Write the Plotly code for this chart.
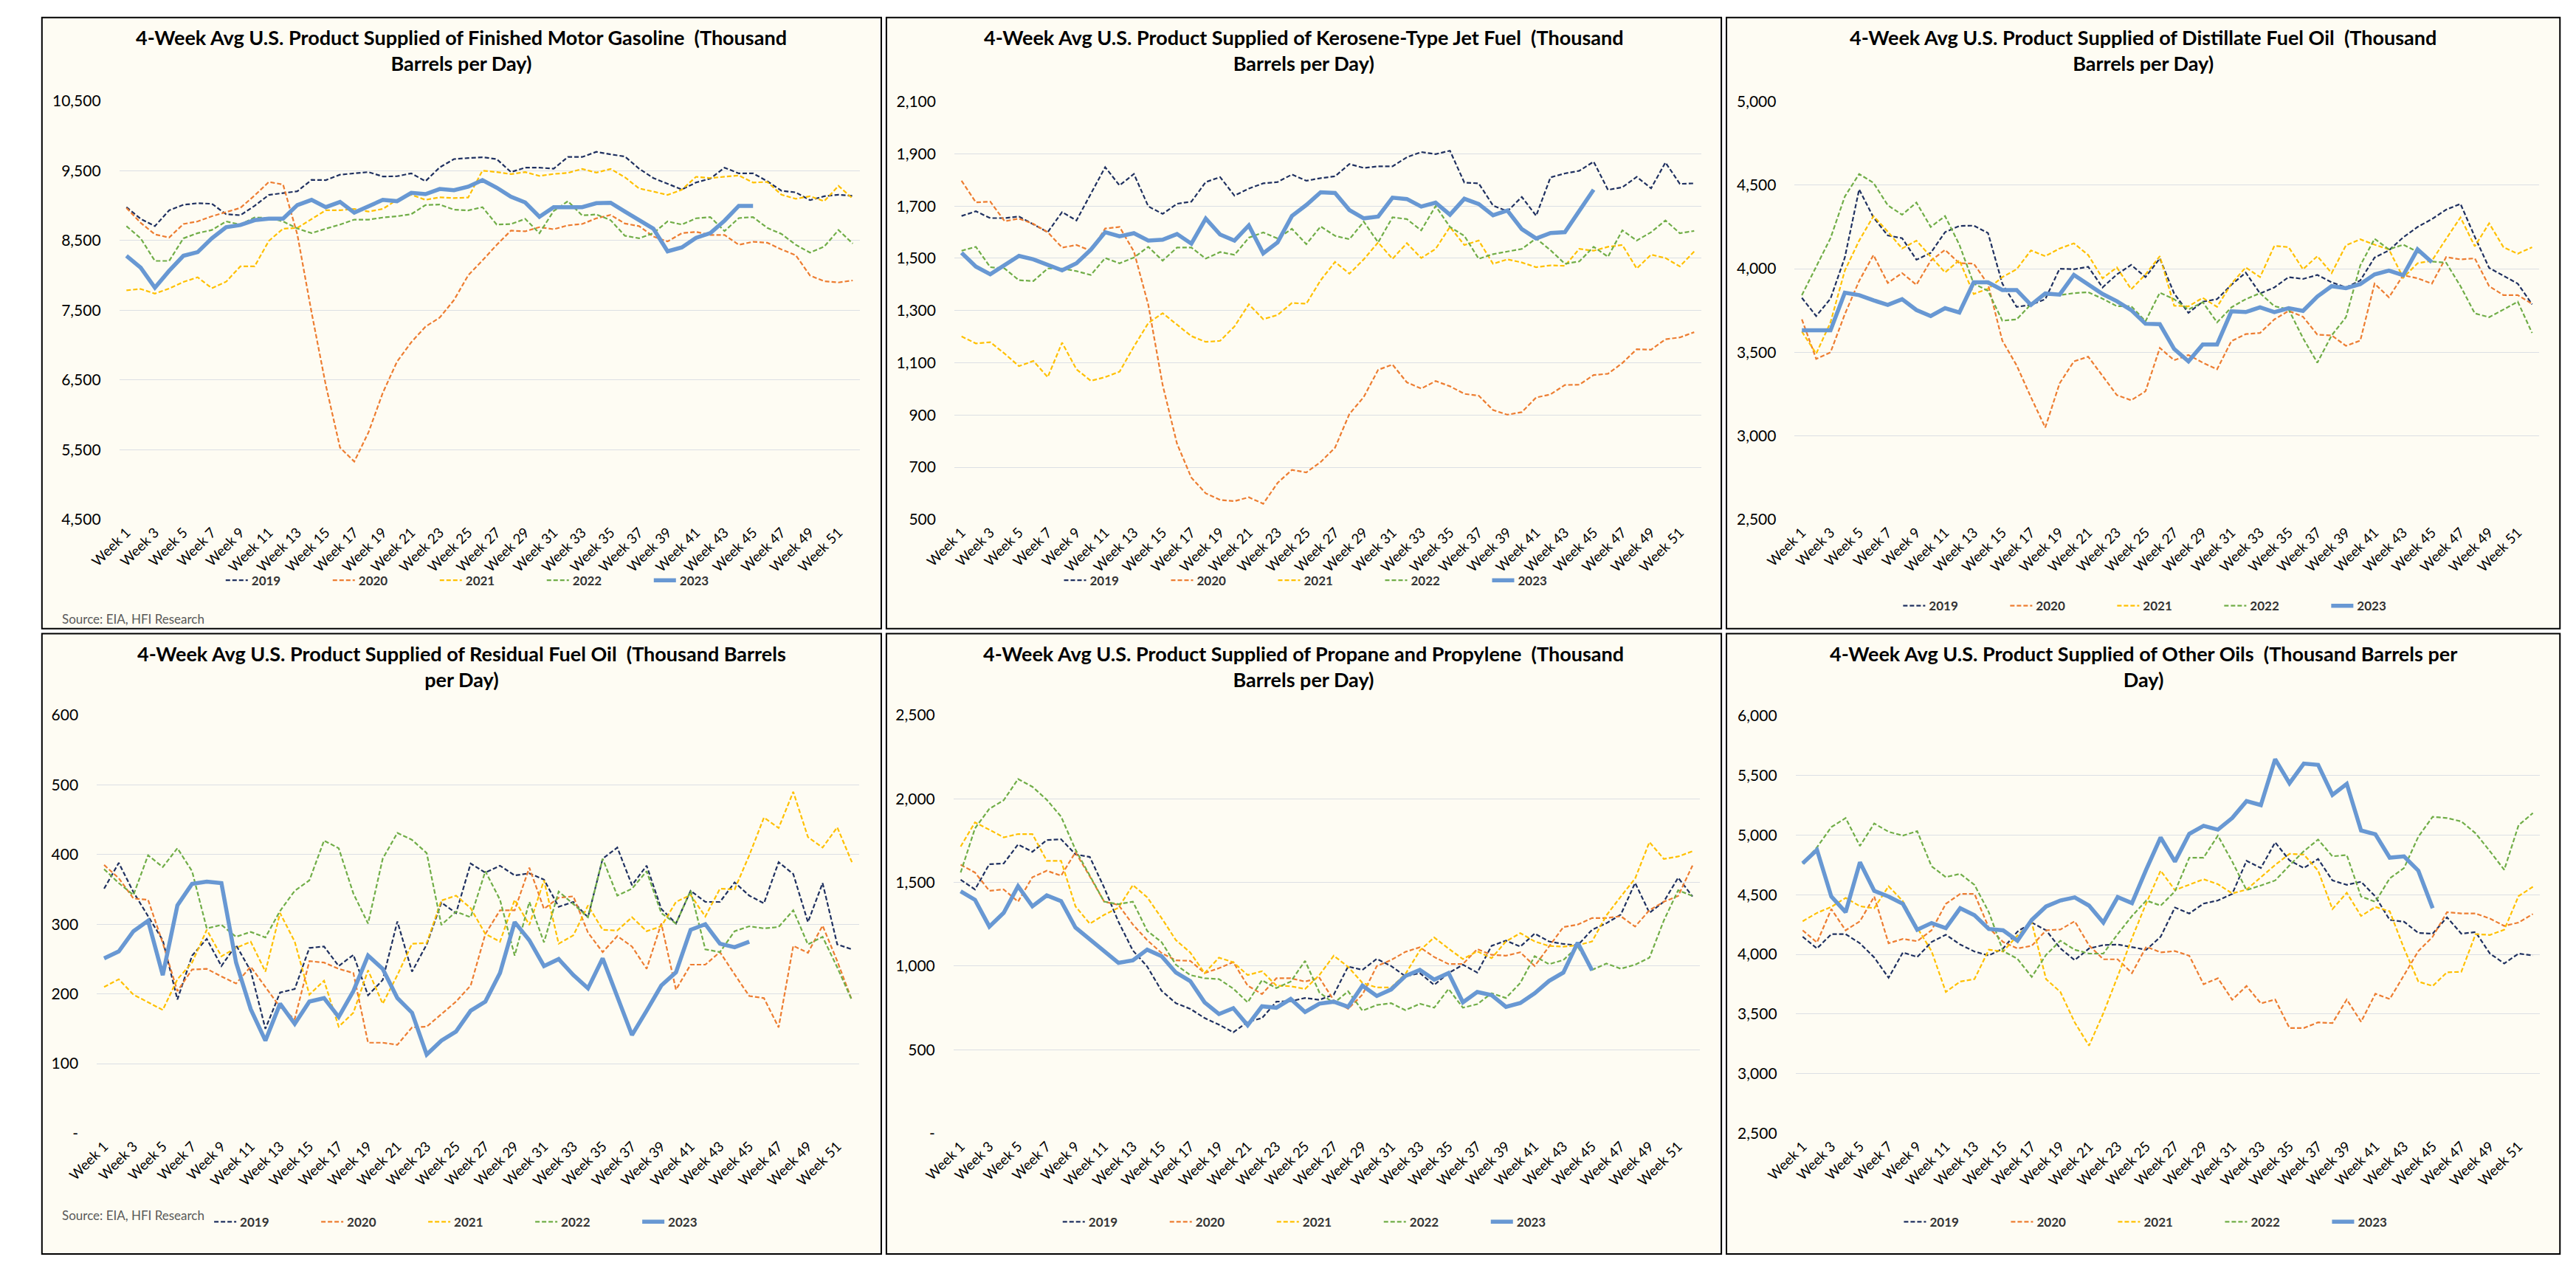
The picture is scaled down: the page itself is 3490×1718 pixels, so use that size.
import plotly.graph_objects as go

W, H = 3490, 1718
FONT = "Lato"

weeks = [f"Week {i}" for i in range(1, 53)]
week_tick_labels = [f"Week {i}" for i in range(1, 53, 2)]
years = ["2019", "2020", "2021", "2022", "2023"]

# ---------------- Finished Motor Gasoline ----------------
gas_2019 = [8977, 8809, 8705, 8932, 9010, 9033, 9025, 8876, 8861, 8995, 9152, 9182, 9204, 9368, 9364, 9442, 9461, 9480, 9416, 9420, 9461, 9349, 9547, 9666, 9680, 9692, 9666, 9480, 9543, 9543, 9528, 9696, 9696, 9770, 9733, 9703, 9528, 9394, 9312, 9230, 9330, 9386, 9543, 9461, 9461, 9349, 9211, 9189, 9077, 9133, 9155, 9137]
gas_2020 = [8966, 8753, 8586, 8541, 8735, 8772, 8846, 8902, 8966, 9144, 9338, 9301, 8586, 7468, 6425, 5530, 5330, 5750, 6314, 6761, 7040, 7264, 7394, 7645, 8000, 8213, 8436, 8641, 8630, 8690, 8660, 8716, 8735, 8817, 8865, 8742, 8705, 8556, 8485, 8604, 8623, 8578, 8578, 8437, 8481, 8466, 8370, 8288, 7997, 7915, 7897, 7926]
gas_2021 = [7785, 7804, 7737, 7811, 7904, 7971, 7815, 7908, 8128, 8128, 8493, 8668, 8679, 8809, 8932, 8932, 8951, 8913, 8951, 9081, 9155, 9081, 9118, 9107, 9115, 9500, 9480, 9450, 9480, 9424, 9453, 9468, 9525, 9472, 9525, 9405, 9245, 9200, 9152, 9226, 9412, 9394, 9416, 9431, 9330, 9338, 9155, 9096, 9133, 9062, 9282, 9100]
gas_2022 = [8705, 8530, 8206, 8206, 8530, 8604, 8649, 8772, 8727, 8828, 8824, 8772, 8671, 8604, 8668, 8727, 8798, 8798, 8828, 8846, 8876, 9007, 9014, 8940, 8930, 8977, 8727, 8734, 8809, 8604, 8921, 9062, 8858, 8872, 8790, 8567, 8530, 8604, 8772, 8727, 8817, 8835, 8634, 8820, 8835, 8679, 8593, 8437, 8325, 8411, 8649, 8455]
gas_2023 = [8280, 8109, 7822, 8064, 8280, 8332, 8530, 8690, 8720, 8790, 8813, 8813, 9007, 9081, 8977, 9051, 8898, 8995, 9081, 9062, 9181, 9163, 9237, 9219, 9270, 9364, 9256, 9126, 9044, 8839, 8977, 8977, 8977, 9033, 9040, 8913, 8783, 8668, 8344, 8400, 8537, 8604, 8783, 8995, 8995]
gas_ticks = [4500, 5500, 6500, 7500, 8500, 9500, 10500]

# ---------------- Kerosene-Type Jet Fuel ----------------
jet_2019 = [1662, 1680, 1654, 1654, 1660, 1630, 1600, 1677, 1645, 1747, 1849, 1779, 1823, 1699, 1670, 1709, 1717, 1792, 1811, 1740, 1767, 1787, 1792, 1821, 1797, 1807, 1814, 1861, 1846, 1852, 1852, 1887, 1907, 1899, 1912, 1790, 1787, 1702, 1680, 1735, 1663, 1810, 1825, 1835, 1870, 1762, 1772, 1812, 1768, 1867, 1785, 1787]
jet_2020 = [1797, 1714, 1717, 1642, 1652, 1632, 1600, 1541, 1551, 1529, 1614, 1620, 1526, 1322, 1015, 790, 660, 600, 575, 570, 585, 560, 640, 690, 680, 720, 775, 904, 969, 1073, 1093, 1025, 1001, 1030, 1010, 981, 974, 919, 901, 911, 967, 979, 1015, 1016, 1053, 1058, 1099, 1152, 1150, 1190, 1197, 1217]
jet_2021 = [1201, 1174, 1179, 1135, 1087, 1107, 1045, 1177, 1075, 1031, 1045, 1066, 1162, 1252, 1290, 1245, 1202, 1180, 1184, 1239, 1324, 1267, 1283, 1329, 1326, 1416, 1486, 1441, 1496, 1561, 1498, 1558, 1501, 1536, 1620, 1551, 1568, 1479, 1496, 1484, 1466, 1473, 1471, 1536, 1529, 1544, 1551, 1461, 1514, 1501, 1469, 1526]
jet_2022 = [1529, 1544, 1466, 1461, 1416, 1413, 1461, 1461, 1451, 1436, 1501, 1481, 1503, 1544, 1491, 1541, 1541, 1499, 1524, 1513, 1579, 1599, 1576, 1613, 1554, 1622, 1586, 1573, 1640, 1561, 1657, 1650, 1607, 1700, 1620, 1586, 1498, 1516, 1526, 1536, 1576, 1531, 1479, 1488, 1544, 1506, 1607, 1568, 1600, 1645, 1596, 1605]
jet_2023 = [1521, 1468, 1439, 1476, 1509, 1496, 1473, 1454, 1481, 1533, 1600, 1584, 1596, 1568, 1571, 1593, 1556, 1652, 1591, 1568, 1626, 1519, 1561, 1662, 1704, 1753, 1750, 1685, 1653, 1660, 1732, 1727, 1698, 1713, 1667, 1728, 1708, 1665, 1683, 1612, 1576, 1597, 1600, 1680, 1763]
jet_ticks = [500, 700, 900, 1100, 1300, 1500, 1700, 1900, 2100]

# ---------------- Distillate Fuel Oil ----------------
dist_2019 = [3826, 3717, 3821, 4067, 4475, 4307, 4199, 4183, 4054, 4095, 4219, 4256, 4258, 4214, 3911, 3772, 3784, 3818, 4000, 3997, 4012, 3888, 3966, 4023, 3950, 4062, 3852, 3736, 3803, 3818, 3904, 3977, 3852, 3888, 3950, 3939, 3963, 3919, 3888, 3930, 4067, 4110, 4188, 4250, 4297, 4354, 4388, 4191, 4005, 3958, 3911, 3787]
dist_2020 = [3697, 3461, 3500, 3728, 3927, 4082, 3915, 3974, 3904, 4048, 4113, 4033, 4031, 3908, 3570, 3422, 3231, 3050, 3314, 3446, 3474, 3361, 3244, 3213, 3267, 3526, 3453, 3484, 3438, 3399, 3567, 3609, 3616, 3697, 3748, 3713, 3606, 3601, 3539, 3570, 3911, 3829, 3961, 3943, 3911, 4070, 4056, 4062, 3896, 3842, 3842, 3790]
dist_2021 = [3624, 3492, 3679, 3989, 4168, 4315, 4222, 4121, 4168, 4075, 3978, 4051, 3849, 3880, 3950, 3997, 4110, 4075, 4121, 4152, 4082, 3943, 4008, 3877, 3966, 4075, 3779, 3775, 3826, 3772, 3911, 4008, 3950, 4137, 4129, 3997, 4075, 3974, 4140, 4176, 4144, 4116, 3946, 4033, 4048, 4179, 4307, 4134, 4272, 4129, 4090, 4129]
dist_2022 = [3842, 4012, 4183, 4432, 4567, 4514, 4380, 4323, 4396, 4250, 4315, 4144, 3911, 3868, 3689, 3697, 3787, 3842, 3842, 3854, 3860, 3821, 3776, 3776, 3686, 3857, 3818, 3756, 3800, 3679, 3769, 3818, 3854, 3776, 3756, 3585, 3438, 3601, 3710, 4020, 4179, 4116, 4144, 4101, 4043, 4036, 3896, 3733, 3710, 3756, 3803, 3616]
dist_2023 = [3632, 3632, 3632, 3857, 3842, 3811, 3784, 3818, 3753, 3717, 3764, 3738, 3919, 3919, 3873, 3873, 3784, 3852, 3845, 3963, 3904, 3849, 3806, 3753, 3671, 3668, 3520, 3446, 3547, 3547, 3745, 3741, 3769, 3741, 3764, 3748, 3834, 3896, 3884, 3908, 3966, 3989, 3961, 4116, 4039]
dist_ticks = [2500, 3000, 3500, 4000, 4500, 5000]

# ---------------- Residual Fuel Oil ----------------
resid_2019 = [351, 388, 346, 311, 277, 192, 255, 279, 240, 270, 233, 150, 202, 207, 266, 268, 240, 256, 198, 220, 304, 232, 271, 331, 316, 387, 374, 384, 370, 373, 364, 325, 332, 310, 394, 410, 356, 384, 322, 301, 348, 332, 332, 360, 341, 330, 389, 372, 303, 359, 271, 264]
resid_2020 = [385, 366, 337, 335, 273, 204, 235, 236, 225, 215, 239, 210, 181, 164, 247, 245, 236, 230, 130, 130, 127, 152, 153, 171, 189, 212, 286, 320, 320, 381, 322, 338, 340, 288, 260, 283, 268, 236, 301, 206, 242, 242, 260, 228, 197, 194, 152, 269, 259, 298, 247, 191]
resid_2021 = [210, 221, 199, 188, 177, 221, 245, 292, 254, 266, 275, 232, 316, 275, 199, 219, 153, 173, 234, 186, 227, 272, 273, 334, 341, 323, 286, 275, 335, 299, 363, 272, 284, 327, 292, 291, 310, 290, 297, 332, 342, 311, 351, 350, 399, 453, 438, 490, 425, 410, 439, 389]
resid_2022 = [379, 359, 342, 399, 382, 409, 376, 294, 299, 282, 289, 281, 319, 348, 363, 420, 409, 344, 301, 394, 431, 421, 402, 299, 318, 310, 376, 335, 255, 332, 274, 347, 329, 310, 394, 341, 351, 376, 316, 301, 348, 264, 260, 290, 297, 294, 296, 320, 271, 282, 238, 191]
resid_2023 = [251, 261, 290, 305, 227, 327, 358, 361, 359, 245, 178, 133, 186, 157, 189, 194, 167, 204, 255, 236, 194, 173, 113, 133, 146, 176, 189, 230, 303, 277, 240, 250, 227, 208, 251, 195, 141, 176, 212, 231, 292, 300, 272, 267, 275]
resid_ticks = [0, 100, 200, 300, 400, 500, 600]

# ---------------- Propane and Propylene ----------------
prop_2019 = [1516, 1458, 1609, 1613, 1727, 1683, 1753, 1758, 1668, 1652, 1469, 1264, 1093, 997, 852, 778, 744, 689, 650, 604, 666, 689, 787, 790, 809, 798, 829, 997, 977, 1043, 1000, 938, 958, 887, 958, 1008, 961, 1121, 1152, 1116, 1194, 1147, 1132, 1124, 1217, 1256, 1307, 1497, 1318, 1385, 1528, 1416]
prop_2020 = [1606, 1559, 1450, 1458, 1385, 1531, 1570, 1540, 1680, 1536, 1385, 1365, 1248, 1155, 1078, 1034, 1031, 958, 987, 1023, 883, 832, 927, 927, 907, 930, 795, 744, 829, 1000, 1036, 1085, 1112, 1054, 1012, 1012, 1101, 1067, 1062, 1082, 1000, 1116, 1233, 1248, 1287, 1287, 1298, 1236, 1334, 1384, 1419, 1601]
prop_2021 = [1714, 1859, 1815, 1769, 1789, 1789, 1629, 1629, 1357, 1253, 1306, 1349, 1484, 1411, 1287, 1155, 1081, 958, 1050, 1023, 946, 969, 883, 879, 863, 946, 1062, 995, 899, 872, 872, 953, 1093, 1171, 1104, 1042, 1088, 1047, 1147, 1197, 1147, 1120, 1116, 1124, 1147, 1303, 1415, 1523, 1741, 1640, 1655, 1686]
prop_2022 = [1559, 1823, 1940, 1991, 2118, 2072, 1994, 1893, 1696, 1543, 1385, 1370, 1385, 1210, 1143, 1008, 946, 927, 922, 865, 783, 915, 868, 907, 1031, 842, 778, 849, 733, 767, 778, 736, 775, 751, 863, 751, 772, 837, 809, 899, 1059, 1011, 1036, 1116, 977, 1015, 984, 1008, 1050, 1272, 1453, 1419]
prop_2023 = [1447, 1396, 1236, 1318, 1477, 1357, 1422, 1388, 1230, 1158, 1085, 1019, 1034, 1098, 1059, 961, 910, 783, 713, 748, 646, 759, 751, 803, 725, 775, 787, 756, 883, 821, 860, 941, 977, 919, 958, 783, 845, 826, 756, 779, 837, 911, 961, 1140, 974]
prop_ticks = [0, 500, 1000, 1500, 2000, 2500]

# ---------------- Other Oils ----------------
other_2019 = [4148, 4050, 4170, 4170, 4093, 3974, 3804, 4017, 3978, 4104, 4165, 4083, 4024, 3991, 4050, 4191, 4267, 4202, 4050, 3952, 4050, 4078, 4083, 4061, 4039, 4148, 4393, 4343, 4426, 4452, 4507, 4785, 4724, 4939, 4789, 4724, 4800, 4620, 4583, 4609, 4485, 4289, 4274, 4180, 4174, 4311, 4174, 4187, 4007, 3924, 4007, 3991]
other_2020 = [4202, 4100, 4380, 4202, 4278, 4485, 4093, 4130, 4111, 4202, 4424, 4507, 4507, 4224, 4104, 4050, 4072, 4202, 4209, 4278, 4076, 3959, 3959, 3843, 4065, 4017, 4028, 3989, 3750, 3800, 3620, 3735, 3589, 3622, 3383, 3383, 3430, 3424, 3622, 3435, 3670, 3626, 3826, 4028, 4148, 4354, 4343, 4343, 4300, 4239, 4267, 4339]
other_2021 = [4278, 4348, 4398, 4474, 4404, 4387, 4572, 4446, 4224, 4028, 3685, 3772, 3793, 4039, 4024, 4159, 4267, 3793, 3685, 3430, 3235, 3507, 3815, 4137, 4430, 4702, 4539, 4583, 4630, 4589, 4511, 4543, 4648, 4750, 4843, 4837, 4702, 4380, 4517, 4322, 4398, 4361, 4050, 3772, 3735, 3850, 3854, 4170, 4163, 4207, 4489, 4567]
other_2022 = [4760, 4898, 5067, 5143, 4909, 5098, 5028, 4996, 5033, 4739, 4648, 4676, 4583, 4354, 4028, 3963, 3811, 3996, 4115, 4039, 4007, 4007, 4170, 4322, 4452, 4409, 4528, 4811, 4811, 4996, 4778, 4539, 4578, 4620, 4746, 4865, 4963, 4822, 4833, 4485, 4441, 4637, 4724, 4987, 5154, 5143, 5115, 5015, 4865, 4709, 5083, 5185]
other_2023 = [4763, 4876, 4485, 4354, 4772, 4533, 4485, 4424, 4207, 4263, 4220, 4387, 4328, 4213, 4202, 4115, 4289, 4402, 4452, 4478, 4409, 4267, 4480, 4430, 4713, 4980, 4778, 5011, 5078, 5046, 5143, 5285, 5252, 5637, 5435, 5600, 5589, 5337, 5430, 5039, 5007, 4811, 4822, 4702, 4387]
other_ticks = [2500, 3000, 3500, 4000, 4500, 5000, 5500, 6000]

titles = [
    "4-Week Avg U.S. Product Supplied of Finished Motor Gasoline  (Thousand<br>Barrels per Day)",
    "4-Week Avg U.S. Product Supplied of Kerosene-Type Jet Fuel  (Thousand<br>Barrels per Day)",
    "4-Week Avg U.S. Product Supplied of Distillate Fuel Oil  (Thousand<br>Barrels per Day)",
    "4-Week Avg U.S. Product Supplied of Residual Fuel Oil  (Thousand Barrels<br>per Day)",
    "4-Week Avg U.S. Product Supplied of Propane and Propylene  (Thousand<br>Barrels per Day)",
    "4-Week Avg U.S. Product Supplied of Other Oils  (Thousand Barrels per<br>Day)",
]
source_text = "Source: EIA, HFI Research"

colors = {"2019": "#1F3060", "2020": "#ED7D31", "2021": "#FFC000", "2022": "#70AD47", "2023": "#6898D3"}

# panel geometry in pixels: box (x0, y0, x1, y1), plot area (x0, y0, x1, y1)
panels = [
    dict(series=[gas_2019, gas_2020, gas_2021, gas_2022, gas_2023], ticks=gas_ticks,
         box=(15, 10, 1166, 850), plot=(121.1, 124.5, 1136.6, 700), title_y=55, legend_y=784, source_y=837),
    dict(series=[jet_2019, jet_2020, jet_2021, jet_2022, jet_2023], ticks=jet_ticks,
         box=(1173, 10, 2318, 850), plot=(1266.2, 125.5, 2290.6, 700), title_y=55, legend_y=784, source_y=None),
    dict(series=[dist_2019, dist_2020, dist_2021, dist_2022, dist_2023], ticks=dist_ticks,
         box=(2325, 10, 3468, 850), plot=(2418.6, 125.5, 3439.6, 700), title_y=55, legend_y=819, source_y=None),
    dict(series=[resid_2019, resid_2020, resid_2021, resid_2022, resid_2023], ticks=resid_ticks,
         box=(15, 857, 1166, 1710), plot=(90.2, 969, 1135.8, 1544), title_y=902, legend_y=1666, source_y=1657),
    dict(series=[prop_2019, prop_2020, prop_2021, prop_2022, prop_2023], ticks=prop_ticks,
         box=(1173, 857, 2318, 1710), plot=(1265, 969, 2288.3, 1544), title_y=902, legend_y=1666, source_y=None),
    dict(series=[other_2019, other_2020, other_2021, other_2022, other_2023], ticks=other_ticks,
         box=(2325, 857, 3468, 1710), plot=(2419.7, 970, 3440.7, 1544), title_y=902, legend_y=1666, source_y=None),
]


def fx(v):
    return v / W


def fy(v):
    return 1 - v / H


fig = go.Figure()
layout = dict(
    width=W, height=H, margin=dict(l=0, r=0, t=0, b=0),
    paper_bgcolor="white", plot_bgcolor="rgba(0,0,0,0)",
    font=dict(family=FONT, color="#000000"),
    shapes=[], annotations=[],
)

for i, p in enumerate(panels, start=1):
    sfx = "" if i == 1 else str(i)
    bx0, by0, bx1, by1 = p["box"]
    px0, py0, px1, py1 = p["plot"]
    layout["shapes"].append(dict(type="rect", xref="paper", yref="paper",
                                 x0=fx(bx0), x1=fx(bx1), y0=fy(by1), y1=fy(by0),
                                 fillcolor="#FEFCF3", line=dict(color="#000000", width=2), layer="below"))
    for y, vals in zip(years, p["series"]):
        solid = (y == "2023")
        fig.add_trace(go.Scatter(
            x=weeks[:len(vals)], y=vals, mode="lines", name="<b>" + y + "</b>",
            line=dict(color=colors[y], width=5.5 if solid else 2.2,
                      dash="solid" if solid else "6px,3px"),
            xaxis="x" + sfx, yaxis="y" + sfx, legend="legend" + sfx,
            hoverinfo="skip",
        ))
    ticks = p["ticks"]
    layout["xaxis" + sfx] = dict(
        domain=[fx(px0), fx(px1)], anchor="y" + sfx, type="category",
        categoryorder="array", categoryarray=weeks, range=[-0.5, 51.5],
        tickmode="array", tickvals=week_tick_labels, ticktext=week_tick_labels,
        tickangle=-45, showgrid=False, zeroline=False, showline=False, ticks="",
        tickfont=dict(family=FONT, size=19, color="#000000"), ticklabelstandoff=2,
    )
    layout["yaxis" + sfx] = dict(
        domain=[fy(py1), fy(py0)], anchor="x" + sfx,
        range=[ticks[0], ticks[-1]], tickmode="array", tickvals=ticks,
        ticktext=[f"{t:,}" if t else "-" for t in ticks],
        showgrid=True, gridcolor="#DCDFE4", gridwidth=1.3, zeroline=False, showline=False,
        ticks="", tickfont=dict(family=FONT, size=21, color="#000000"), ticklabelstandoff=24,
    )
    layout["legend" + sfx] = dict(
        orientation="h", x=fx((px0 + px1) / 2), xanchor="center",
        y=fy(p["legend_y"]), yanchor="middle", bgcolor="rgba(0,0,0,0)",
        font=dict(family=FONT, size=17, color="#333333"), itemwidth=30,
        entrywidth=100, traceorder="normal",
    )
    layout["annotations"].append(dict(
        xref="paper", yref="paper", x=fx((bx0 + bx1) / 2), y=fy(p["title_y"]),
        text="<b>" + titles[i - 1] + "</b>", showarrow=False,
        xanchor="center", yanchor="middle",
        font=dict(family=FONT, size=27, color="#000000"),
    ))
    if p["source_y"]:
        layout["annotations"].append(dict(
            xref="paper", yref="paper", x=fx(bx0 + 25), y=fy(p["source_y"]),
            text=source_text, showarrow=False, xanchor="left", yanchor="middle",
            font=dict(family=FONT, size=17, color="#595959"),
        ))

fig.update_layout(**layout)
fig.write_html("out.html", include_plotlyjs=True, config={"displayModeBar": False},
               post_script="document.body.style.margin='0px';document.body.style.overflow='hidden';")
